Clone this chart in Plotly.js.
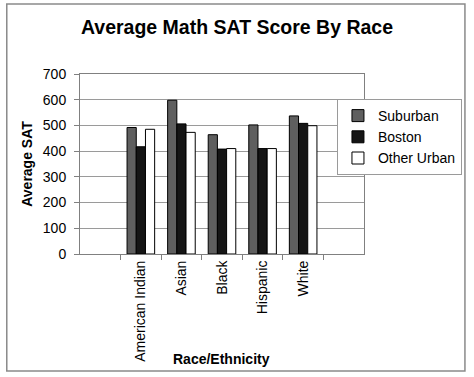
<!DOCTYPE html>
<html>
<head>
<meta charset="utf-8">
<script src="https://cdn.plot.ly/plotly-3.0.1.min.js"></script>
<style>
html,body{margin:0;padding:0;background:#fff;}
#chart{width:474px;height:377px;}
</style>
</head>
<body>
<div id="chart"></div>
<script>
const categories = ["American Indian", "Asian", "Black", "Hispanic", "White"];
const suburban   = [492, 598, 464, 502, 537];
const boston     = [417, 506, 408, 410, 508];
const otherUrban = [485, 473, 410, 410, 499];
const yTicks = [0, 100, 200, 300, 400, 500, 600, 700];

const FONT = "Arial, 'Liberation Sans', sans-serif";
const W = 474, H = 377;
const L = 80, R = 367, T = 74, B = 254;
const px = x => (x - L) / (R - L);
const py = y => (B - y) / (B - T);

const outline = {color: "#000000", width: 1};
const traces = [
  {type: "bar", name: "Suburban", x: categories, y: suburban,
   marker: {color: "#5f5f5f", line: outline}},
  {type: "bar", name: "Boston", x: categories, y: boston,
   marker: {color: "#151515", line: outline}},
  {type: "bar", name: "Other Urban", x: categories, y: otherUrban,
   marker: {color: "#ffffff", line: outline}}
];

const layout = {
  width: W, height: H,
  margin: {l: L, r: W - R, t: T, b: H - B, pad: 0},
  paper_bgcolor: "#ffffff",
  plot_bgcolor: "#ffffff",
  font: {family: FONT, size: 14, color: "#000000"},
  title: {text: "<b>Average Math SAT Score By Race</b>", font: {family: FONT, size: 19.5, color: "#000"},
          x: 0.5, xref: "container", y: 1 - 27 / H, yref: "container", yanchor: "middle", xanchor: "center"},
  barmode: "group",
  bargap: 0.32,
  bargroupgap: 0,
  showlegend: true,
  legend: {x: px(466), xanchor: "right", y: py(99), yanchor: "top",
           bgcolor: "#ffffff", bordercolor: "#9a9a9a", borderwidth: 1,
           font: {family: FONT, size: 14, color: "#000"}, traceorder: "normal"},
  xaxis: {
    type: "category",
    range: [-1.5, 4 + 1.5],
    tickson: "boundaries",
    ticks: "outside", ticklen: 5, tickcolor: "#808080", tickwidth: 1,
    tickangle: -90,
    tickfont: {family: FONT, size: 14, color: "#000"},
    showline: true, linecolor: "#808080", linewidth: 1, mirror: true,
    showgrid: false, zeroline: false, fixedrange: true
  },
  yaxis: {
    range: [0, 700],
    tickvals: yTicks,
    ticks: "outside", ticklen: 5, tickcolor: "#808080", tickwidth: 1,
    ticklabelstandoff: 5,
    tickfont: {family: FONT, size: 14, color: "#000"},
    showline: true, linecolor: "#808080", linewidth: 1, mirror: true,
    showgrid: true, gridcolor: "#9a9a9a", gridwidth: 1,
    zeroline: false, fixedrange: true,
    title: {text: "<b>Average SAT</b>", font: {family: FONT, size: 14, color: "#000"}, standoff: 6}
  },
  annotations: [
    {text: "<b>Race/Ethnicity</b>", xref: "paper", yref: "paper", x: px(223), y: py(359),
     xanchor: "center", yanchor: "middle", showarrow: false,
     font: {family: FONT, size: 14, color: "#000"}}
  ],
  shapes: [
    {type: "rect", xref: "paper", yref: "paper", x0: px(6), x1: px(469), y0: py(371), y1: py(4),
     line: {color: "#8a8a8a", width: 1.5}, layer: "below"}
  ]
};

Plotly.newPlot("chart", traces, layout, {staticPlot: true, displayModeBar: false});
</script>
</body>
</html>
